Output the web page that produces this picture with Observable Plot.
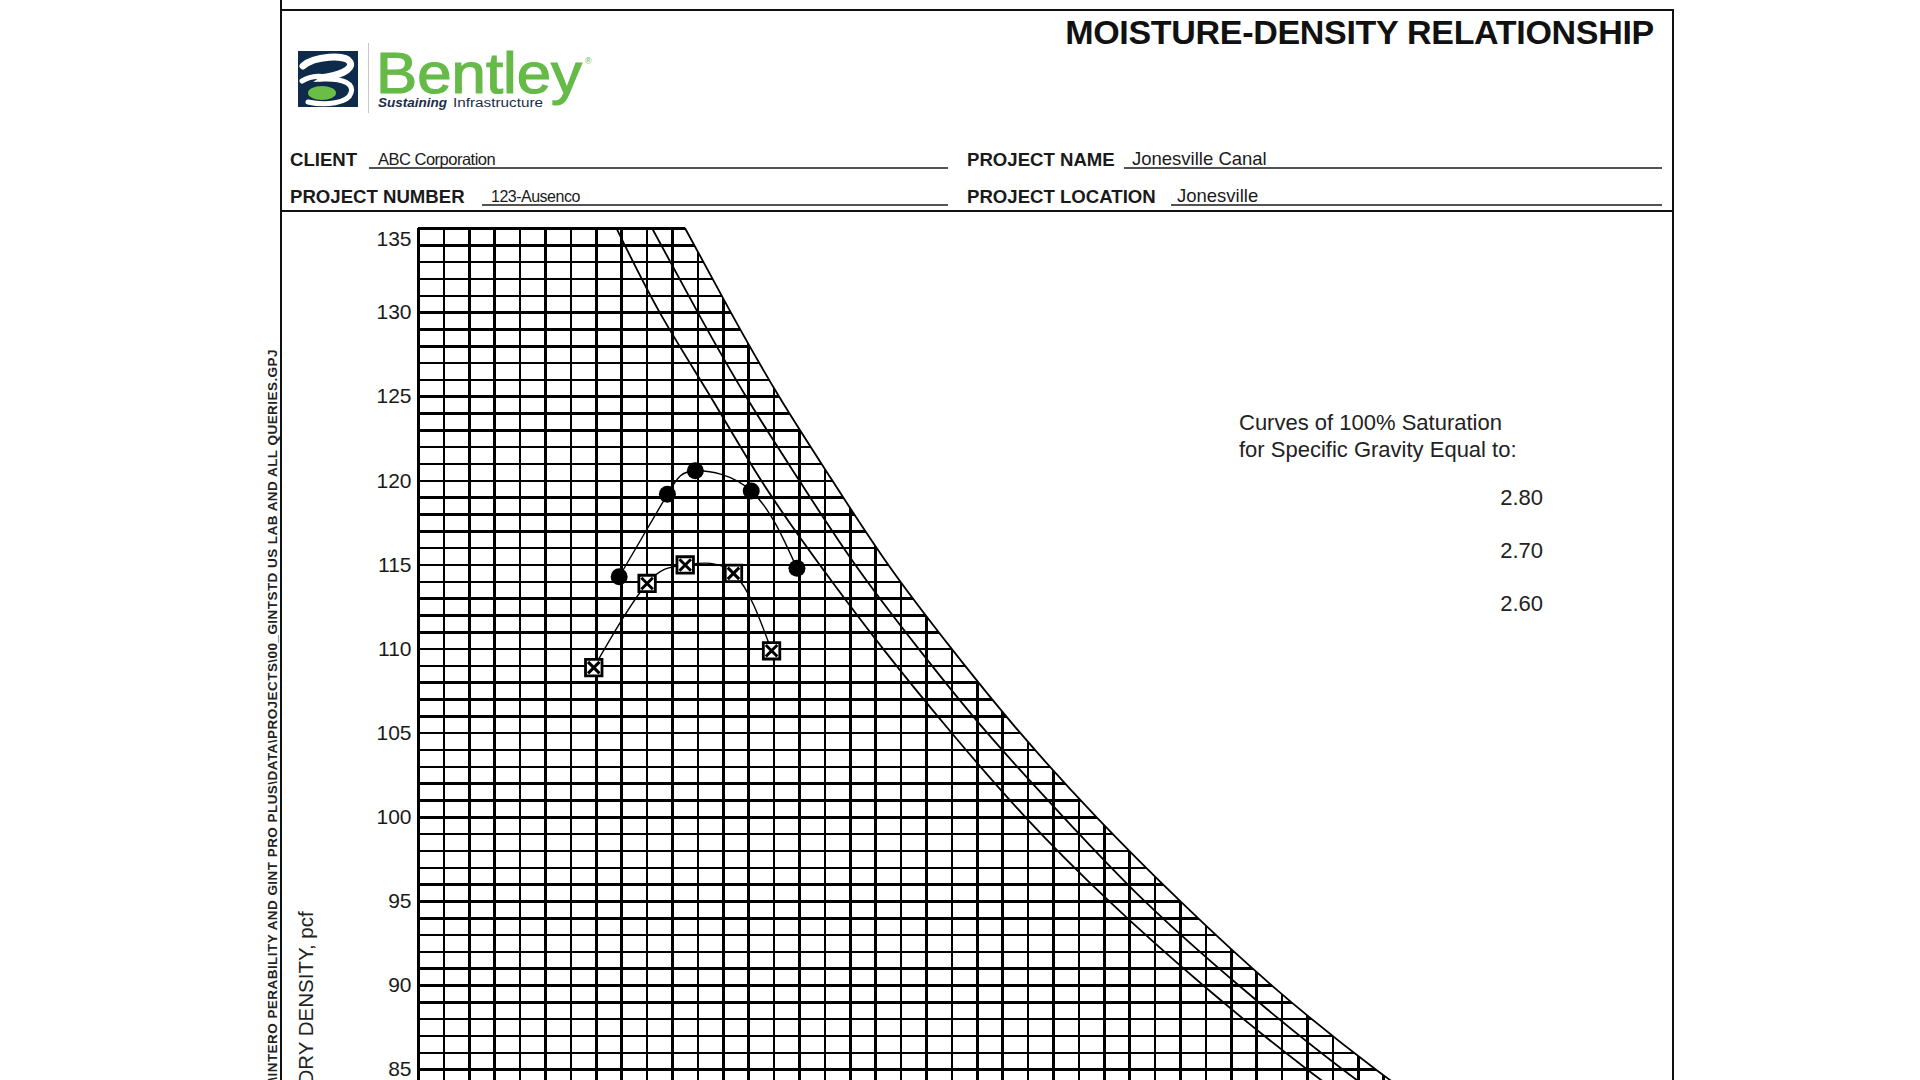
<!DOCTYPE html>
<html>
<head>
<meta charset="utf-8">
<script src="https://cdn.jsdelivr.net/npm/d3@7"></script>
<script src="https://cdn.jsdelivr.net/npm/@observablehq/plot@0.6"></script>
<style>
html, body { margin: 0; padding: 0; width: 1920px; height: 1080px; overflow: hidden; background: #fff; }
body { font-family: "Liberation Sans", Arial, sans-serif; position: relative; }
#chart { position: absolute; left: 280px; top: 211px; }
#deco { position: absolute; left: 0; top: 0; }
#deco text { font-family: "Liberation Sans", Arial, sans-serif; }
</style>
</head>
<body>
<div id="chart"></div>
<svg id="deco" width="1920" height="1080">
  <!-- page box -->
  <g stroke="#111" stroke-width="2" fill="none">
    <line x1="281" y1="0" x2="281" y2="1080"></line>
    <line x1="280" y1="10" x2="1674" y2="10"></line>
    <line x1="1673" y1="10" x2="1673" y2="1080"></line>
    <line x1="280" y1="211" x2="1674" y2="211"></line>
  </g>
  <!-- logo -->
  <g transform="translate(298,51)">
    <rect x="0" y="0" width="60" height="56" fill="#0f2b4c"></rect>
    <ellipse cx="24" cy="42" rx="14" ry="7" fill="#6abd45"></ellipse>
    <path d="M5,15 C16,5 48,3 52,11 C56,19 40,25 22,27" stroke="#fff" stroke-width="7" fill="none" stroke-linecap="round"></path>
    <path d="M4,30 C14,24 30,24 24,28 C46,27 56,33 53,42 C50,52 28,55 10,51" stroke="#fff" stroke-width="5" fill="none" stroke-linecap="round"></path>
  </g>
  <line x1="368.5" y1="43" x2="368.5" y2="113" stroke="#c8c8c8" stroke-width="1"></line>
  <text x="376" y="93" font-size="58" fill="#65ba48" stroke="#65ba48" stroke-width="1.2" textLength="206" lengthAdjust="spacingAndGlyphs">Bentley</text>
  <text x="585" y="64" font-size="9" fill="#65ba48">®</text>
  <text x="378" y="107" font-size="12.5" font-weight="bold" font-style="italic" fill="#1b2d46" textLength="69" lengthAdjust="spacingAndGlyphs">Sustaining</text>
  <text x="453" y="107" font-size="12.5" fill="#1b2d46" textLength="90" lengthAdjust="spacingAndGlyphs">Infrastructure</text>
  <!-- title -->
  <text x="1654" y="44" font-size="34" font-weight="bold" fill="#111" text-anchor="end" letter-spacing="-0.3">MOISTURE-DENSITY RELATIONSHIP</text>
  <!-- header fields -->
  <g font-size="18.6" font-weight="bold" fill="#1a1a1a">
    <text x="290" y="166">CLIENT</text>
    <text x="290" y="203">PROJECT NUMBER</text>
    <text x="967" y="166">PROJECT NAME</text>
    <text x="967" y="203">PROJECT LOCATION</text>
  </g>
  <g fill="#1a1a1a">
    <text x="378" y="165" font-size="16.5" letter-spacing="-0.5">ABC Corporation</text>
    <text x="491" y="202" font-size="16" letter-spacing="-0.5">123-Ausenco</text>
    <text x="1132" y="165" font-size="18.5">Jonesville Canal</text>
    <text x="1177" y="202" font-size="18.5">Jonesville</text>
  </g>
  <g stroke="#1a1a1a" stroke-width="1.6">
    <line x1="369" y1="168" x2="948" y2="168"></line>
    <line x1="482" y1="205" x2="948" y2="205"></line>
    <line x1="1124" y1="168" x2="1662" y2="168"></line>
    <line x1="1171" y1="205" x2="1662" y2="205"></line>
  </g>
  <!-- side file path -->
  <text x="276.5" y="349" font-size="13.5" font-weight="bold" fill="#222" text-anchor="end" letter-spacing="0.45" transform="rotate(-90,276.5,349)">GINT FILES\INTERO PERABILITY AND GINT PRO PLUS\DATA\PROJECTS\00_GINTSTD US LAB AND ALL QUERIES.GPJ</text>
  <!-- legend -->
  <g id="legend" font-size="22" fill="#222">
    <text x="1239" y="430">Curves of 100% Saturation</text>
    <text x="1239" y="457">for Specific Gravity Equal to:</text>
  </g>
</svg>
<script>
// ---- data ----
const densityTicks = [85, 90, 95, 100, 105, 110, 115, 120, 125, 130];
const densityTopTick = [135];
const specificGravities = ["2.80", "2.70", "2.60"];

// 100% saturation curves (moisture %, at dry densities in pcf)
const satDensity     = [135, 130, 125, 120, 115, 110, 105, 100, 95, 90, 85, 80];
const satMoisture260 = [7.8, 9.5, 11.5, 13.5, 15.8, 18.3, 21.0, 23.9, 27.2, 30.9, 35.0, 39.5];
const satMoisture270 = [9.2, 11.0, 12.9, 15.0, 17.2, 19.7, 22.4, 25.4, 28.6, 32.3, 36.4, 41.0];
const satMoisture280 = [10.5, 12.3, 14.2, 16.3, 18.5, 21.0, 23.7, 26.7, 30.0, 33.6, 37.7, 42.3];

// compaction test points
const moistureFilled = [7.9, 9.8, 10.9, 13.1, 14.9];
const densityFilled  = [114.3, 119.2, 120.6, 119.4, 114.8];
const moistureSquare = [6.9, 9.0, 10.5, 12.4, 13.9];
const densitySquare  = [108.9, 113.9, 115.0, 114.5, 109.9];

// grid ticks (1 % moisture, 1 pcf density); the top line stops at the 2.80 curve
const moistureGrid = d3.range(0, 41);
const densityGrid = d3.range(84, 135);
const densityTopLine = [135];

// ---- tables ----
const saturation = [["2.60", satMoisture260], ["2.70", satMoisture270], ["2.80", satMoisture280]]
  .flatMap(([gs, arr]) => arr.map((m, i) => ({gs, moisture: m, density: satDensity[i]})));
const sat280 = saturation.filter(d => d.gs === "2.80");
const filled = moistureFilled.map((m, i) => ({moisture: m, density: densityFilled[i]}));
const square = moistureSquare.map((m, i) => ({moisture: m, density: densitySquare[i]}));

const gridStyle = {stroke: "#000", strokeOpacity: 1, strokeWidth: 2.5, shapeRendering: "crispEdges"};
const tickStyle = {label: null, tickSize: 0, tickPadding: 7, fontSize: 21, fill: "#1a1a1a"};

const chart = Plot.plot({
  width: 1194,
  height: 915,
  marginLeft: 138,
  marginRight: 40,
  marginTop: 17,
  marginBottom: 40,
  x: {domain: [0, 40], axis: null, label: null},
  y: {domain: [84, 135], axis: null, label: null},
  style: {background: "transparent", fontFamily: "Liberation Sans, Arial, sans-serif"},
  marks: [
    Plot.gridX(moistureGrid, gridStyle),
    Plot.gridY(densityGrid, gridStyle),
    Plot.areaX(sat280, {y: "density", x1: "moisture", x2: 44, curve: "natural", fill: "white"}),
    Plot.ruleY(densityTopLine, {x1: 0, x2: satMoisture280[0], ...gridStyle}),
    Plot.line(saturation, {x: "moisture", y: "density", z: "gs", curve: "natural", stroke: "#000", strokeWidth: 1.8}),
    Plot.line(filled, {x: "moisture", y: "density", curve: "natural", stroke: "#000", strokeWidth: 1.4}),
    Plot.line(square, {x: "moisture", y: "density", curve: "natural", stroke: "#000", strokeWidth: 1.4}),
    Plot.dot(filled, {x: "moisture", y: "density", r: 8.5, fill: "#000", symbol: "circle"}),
    Plot.dot(square, {x: "moisture", y: "density", r: 9.3, symbol: "square", fill: "#fff", stroke: "#000", strokeWidth: 2.8}),
    Plot.dot(square, {x: "moisture", y: "density", r: 5.3, symbol: "times", stroke: "#000", strokeWidth: 3}),
    Plot.axisY(densityTicks, tickStyle),
    Plot.axisY(densityTopTick, {...tickStyle, dy: 11}),
    Plot.text(["DRY DENSITY, pcf"], {frameAnchor: "bottom-left", rotate: -90, textAnchor: "start", dx: -106, dy: -2, fontSize: 20.5, fill: "#222"})
  ]
});
document.getElementById("chart").appendChild(chart);

// legend values
d3.select("#legend").selectAll("text.gs")
  .data(specificGravities)
  .join("text")
  .attr("class", "gs")
  .attr("x", 1543)
  .attr("y", (d, i) => 505 + i * 53)
  .attr("text-anchor", "end")
  .text(d => d);
</script>
</body>
</html>
